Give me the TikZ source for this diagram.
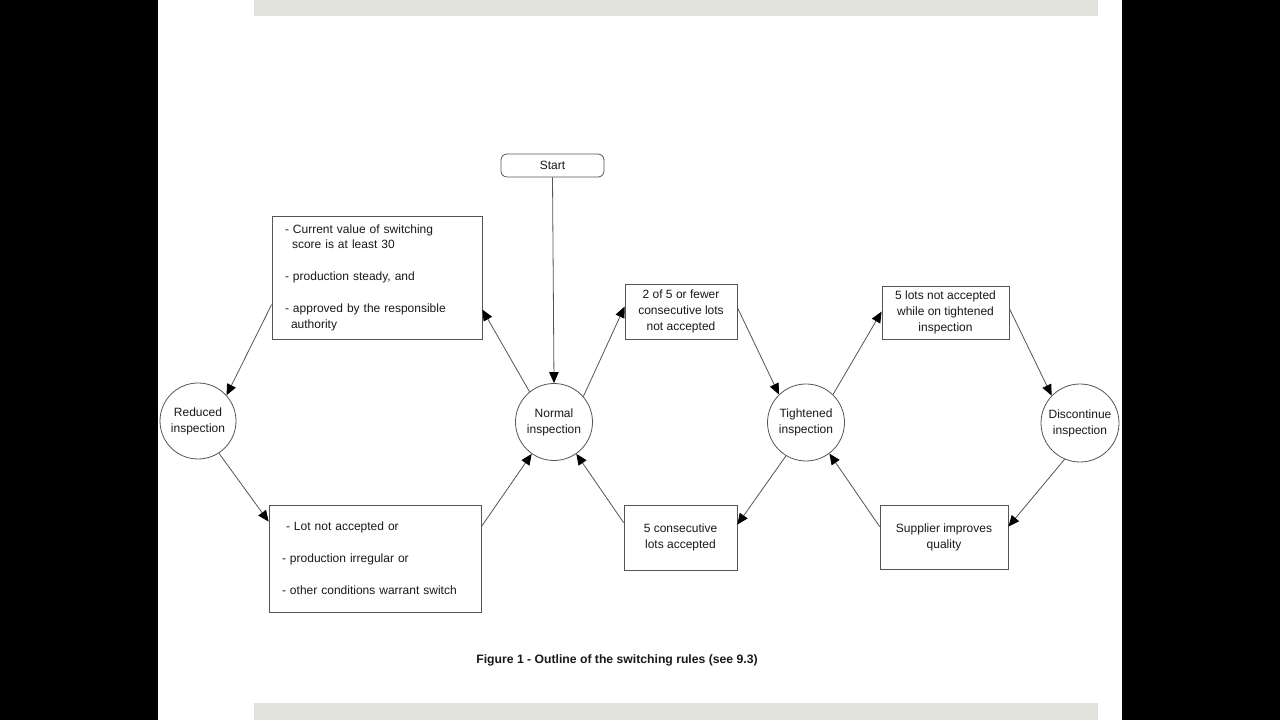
\documentclass[tikz,border=0pt]{standalone}
\usepackage{fontspec}
\setmainfont{Liberation Sans}
\usetikzlibrary{arrows.meta,calc}
\definecolor{bar}{RGB}{226,226,221}
\definecolor{ln}{RGB}{85,85,85}
\begin{document}
\begin{tikzpicture}[x=1pt,y=1pt,
  every node/.style={font=\fontsize{12}{16}\selectfont, text=black!90, inner sep=0pt},
  box/.style={draw=ln, line width=0.8pt, rectangle},
  state/.style={draw=ln, line width=0.8pt, circle, align=center},
  conn/.style={draw=ln, line width=0.8pt, -{Triangle[length=11pt,width=9.5pt,color=black]}}]
% page background
\fill[black] (0,0) rectangle (1280,720);
\fill[white] (158,0) rectangle (1122,720);
\fill[bar] (254,704) rectangle (1098,720);
\fill[bar] (254,0) rectangle (1098,17);
\useasboundingbox (0,0) rectangle (1280,720);
% nodes
\node[box, rounded corners=6pt, minimum width=103pt, minimum height=23pt] (start) at (552.5,554.5) {\raisebox{-1pt}{Start}};
\node[box, minimum width=210pt, minimum height=123pt, text width=184pt, align=left] (b1) at (377,442.5)
  {\raisebox{-1pt}{- Current value of switching}\\
   \hspace*{7pt}score is at least 30\\[16pt]
   - production steady, and\\[16pt]
   - approved by the responsible\\
   \hspace*{6pt}authority};
\node[box, minimum width=212pt, minimum height=107pt, text width=186pt, align=left] (b2) at (375,161.5)
  {\hspace*{4pt}- Lot not accepted or\\[16pt]
   - production irregular or\\[16pt]
   - other conditions warrant switch};
\node[state, minimum size=76pt] (red) at (198,299) {Reduced\\inspection};
\node[state, minimum size=77pt] (nor) at (554,298) {Normal\\inspection};
\node[state, minimum size=77pt] (tig) at (806,297.5) {Tightened\\inspection};
\node[state, minimum size=78pt] (dis) at (1080,297) {Discontinue\\inspection};
\node[box, minimum width=112pt, minimum height=55pt, align=center] (b3) at (681,408.5)
  {2 of 5 or fewer\\consecutive lots\\not accepted};
\node[box, minimum width=127pt, minimum height=53pt, align=center] (b4) at (945.5,407.5)
  {5 lots not accepted\\while on tightened\\inspection};
\node[box, minimum width=113pt, minimum height=65pt, align=center] (b5) at (680.5,182.5)
  {5 consecutive\\lots accepted};
\node[box, minimum width=128pt, minimum height=64pt, align=center] (b6) at (944,183)
  {Supplier improves\\quality};
\node[font=\bfseries\fontsize{12.2}{14}\selectfont] (cap) at (617,60) {Figure 1 - Outline of the switching rules (see 9.3)};
% connectors
\draw[conn] (start.south) -- (nor.north);
\draw[conn] ($(b1.north west)+(0,-89)$) -- (red.42);
\draw[conn] (nor.129) -- ($(b1.north east)+(0,-94)$);
\draw[conn] (red.-57) -- ($(b2.north west)+(0,-17)$);
\draw[conn] ($(b2.north east)+(0,-22)$) -- (nor.-125);
\draw[conn] (nor.41) -- ($(b3.north west)+(0,-23)$);
\draw[conn] ($(b3.north east)+(0,-24)$) -- (tig.134);
\draw[conn] ($(b5.north west)+(0,-18)$) -- (nor.-55);
\draw[conn] (tig.-121) -- ($(b5.north east)+(0,-20)$);
\draw[conn] (tig.46) -- ($(b4.north west)+(0,-26)$);
\draw[conn] ($(b4.north east)+(0,-23)$) -- (dis.136);
\draw[conn] (dis.-113) -- ($(b6.north east)+(0,-22)$);
\draw[conn] ($(b6.north west)+(0,-22)$) -- (tig.-53);
\end{tikzpicture}
\end{document}
